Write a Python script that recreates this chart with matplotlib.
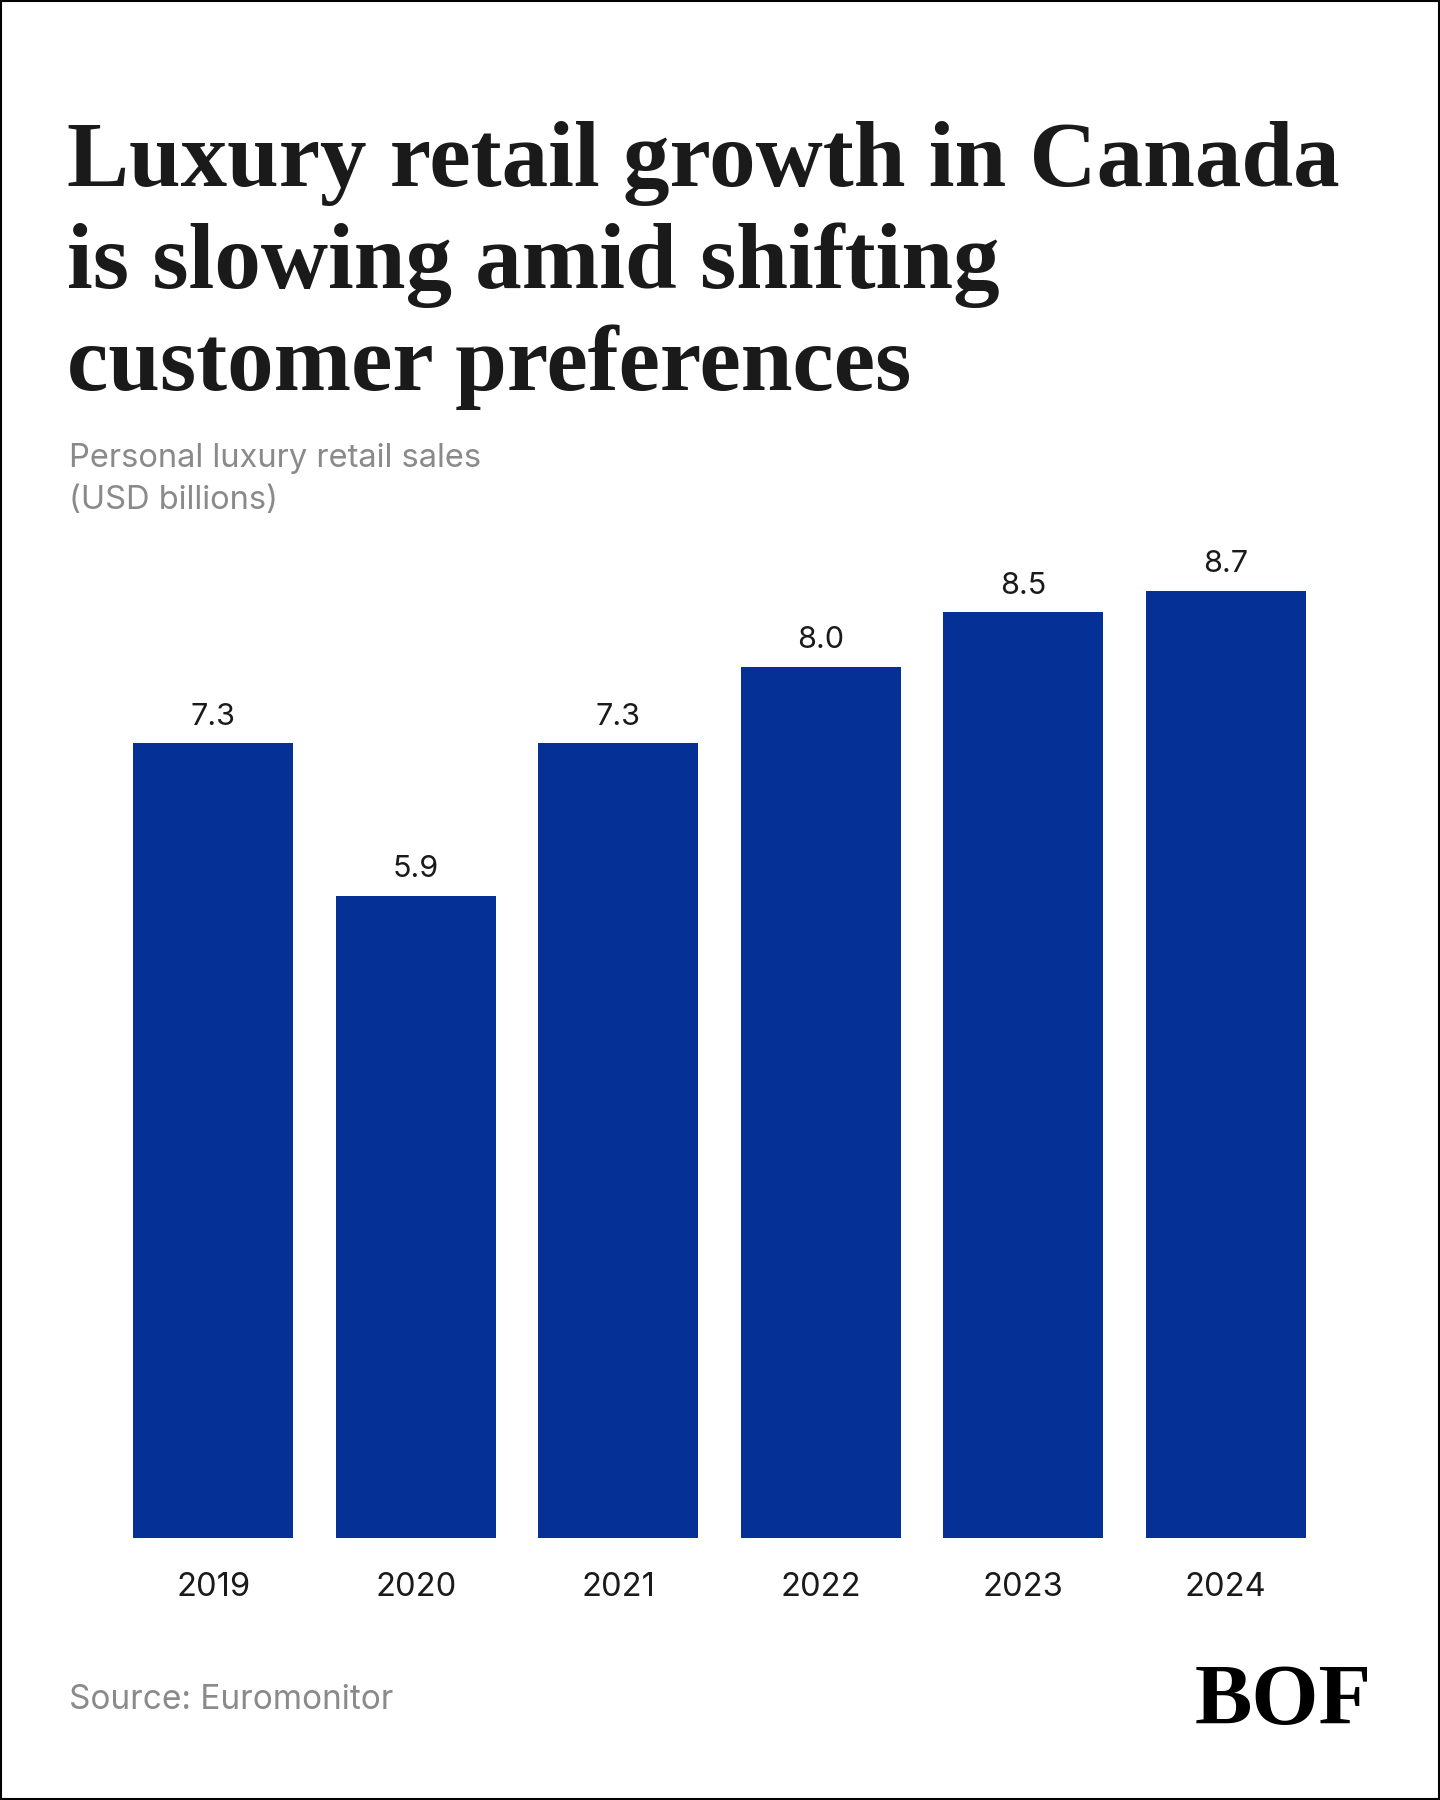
import matplotlib
matplotlib.use("Agg")
import matplotlib.pyplot as plt
from matplotlib.patches import Rectangle

years = ["2019", "2020", "2021", "2022", "2023", "2024"]
values = [7.3, 5.9, 7.3, 8.0, 8.5, 8.7]
value_labels = ["7.3", "5.9", "7.3", "8.0", "8.5", "8.7"]

W, H = 1254, 1568
fig = plt.figure(figsize=(14.4, 18), dpi=100)
fig.patches.append(Rectangle((0.0005, 0.0005), 0.999, 0.999, transform=fig.transFigure,
                             fill=False, edgecolor="black", linewidth=1.5))

def fx(x): return x / W
def fy(y): return 1 - y / H

ax = fig.add_axes([fx(116), fy(1340), fx(1137) - fx(116), fy(486) - fy(1340)])
x = range(len(years))
ax.bar(x, values, width=0.79, color="#053096")
ax.set_xlim(-0.395, 5.395)
ax.set_ylim(0, 9)
for s in ax.spines.values():
    s.set_visible(False)
ax.set_yticks([])
ax.set_xticks(list(x))
ax.set_xticklabels(years, fontsize=23.5, family="Inter", color="#1a1a1a")
ax.tick_params(axis="x", length=0, pad=24)
for i, (v, l) in enumerate(zip(values, value_labels)):
    ax.annotate(l, (i, v), xytext=(0, 9), textcoords="offset points",
                ha="center", va="bottom", fontsize=22, family="Inter", color="#1a1a1a")

title = ["Luxury retail growth in Canada", "is slowing amid shifting", "customer preferences"]
for i, t in enumerate(title):
    fig.text(fx(58), fy(162 + i * 89), t, fontsize=67, fontweight="bold",
             family="Liberation Serif", color="#1a1a1a", va="baseline")

fig.text(fx(60), fy(407), "Personal luxury retail sales", fontsize=23.5, family="Inter",
         color="#8a8a8a", va="baseline")
fig.text(fx(60), fy(443), "(USD billions)", fontsize=23.5, family="Inter",
         color="#8a8a8a", va="baseline")
fig.text(fx(60), fy(1489), "Source: Euromonitor", fontsize=24, family="Inter",
         color="#8a8a8a", va="baseline")
fig.text(fx(1195), fy(1502), "BOF", fontsize=62, fontweight="bold", family="Liberation Serif",
         color="black", ha="right", va="baseline")

fig.savefig("out.png", dpi=100, facecolor="white")
